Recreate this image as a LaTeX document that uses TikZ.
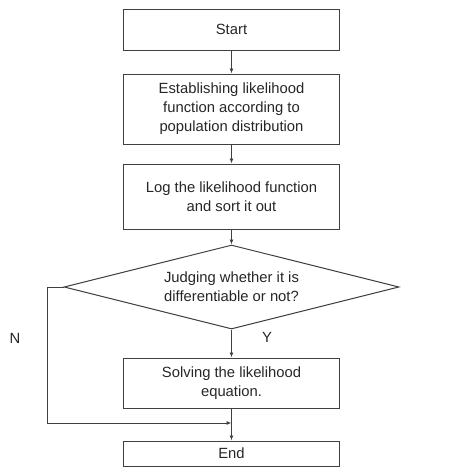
\documentclass[tikz,border=0pt]{standalone}
\usepackage{fontspec}
\setmainfont{Liberation Sans}
\usetikzlibrary{shapes.geometric,arrows.meta}

\tikzset{
  procbox/.style={draw=black!75,line width=1pt,minimum width=216pt,inner sep=0pt,
    align=center,font=\fontsize{14.8}{19}\selectfont,text=black!85},
  judgebox/.style={draw=black!75,line width=1pt,diamond,aspect=4,inner sep=0pt,
    minimum width=335pt,minimum height=84pt,align=center,
    font=\fontsize{14.8}{19}\selectfont,text=black!85},
  flow/.style={draw=black!75,line width=0.9pt,-{Latex[length=5pt,width=4pt]}},
  tag/.style={font=\fontsize{14.8}{17}\selectfont,text=black!85}
}

\begin{document}
\begin{tikzpicture}[x=1pt,y=-1pt]
\useasboundingbox (0,0) rectangle (474,474);

\node[procbox,minimum height=41pt] (start) at (231.5,29.5) {Start};
\node[procbox,minimum height=70pt] (est) at (231.5,109) {Establishing likelihood\\function according to\\population distribution};
\node[procbox,minimum height=65pt] (log) at (231.5,196.5) {Log the likelihood function\\and sort it out};
\node[judgebox] (judge) at (231.5,287) {Judging whether it is\\differentiable or not?};
\node[procbox,minimum height=50pt] (solve) at (231.5,383) {Solving the likelihood\\equation.};
\node[procbox,minimum height=25pt] (stop) at (231.5,453.5) {End};

\coordinate (merge) at (231.5,423);
\node[tag] (yes) at (267,337) {Y};
\node[tag] (no) at (15,338) {N};

\draw[flow] (start) -- (est);
\draw[flow] (est) -- (log);
\draw[flow] (log) -- (judge.north);
\draw[flow] (judge.south) -- (solve);
\draw[flow] (solve) -- (stop);
\draw[flow] (judge.west) -- ++(-16,0) |- (merge);

\end{tikzpicture}
\end{document}
